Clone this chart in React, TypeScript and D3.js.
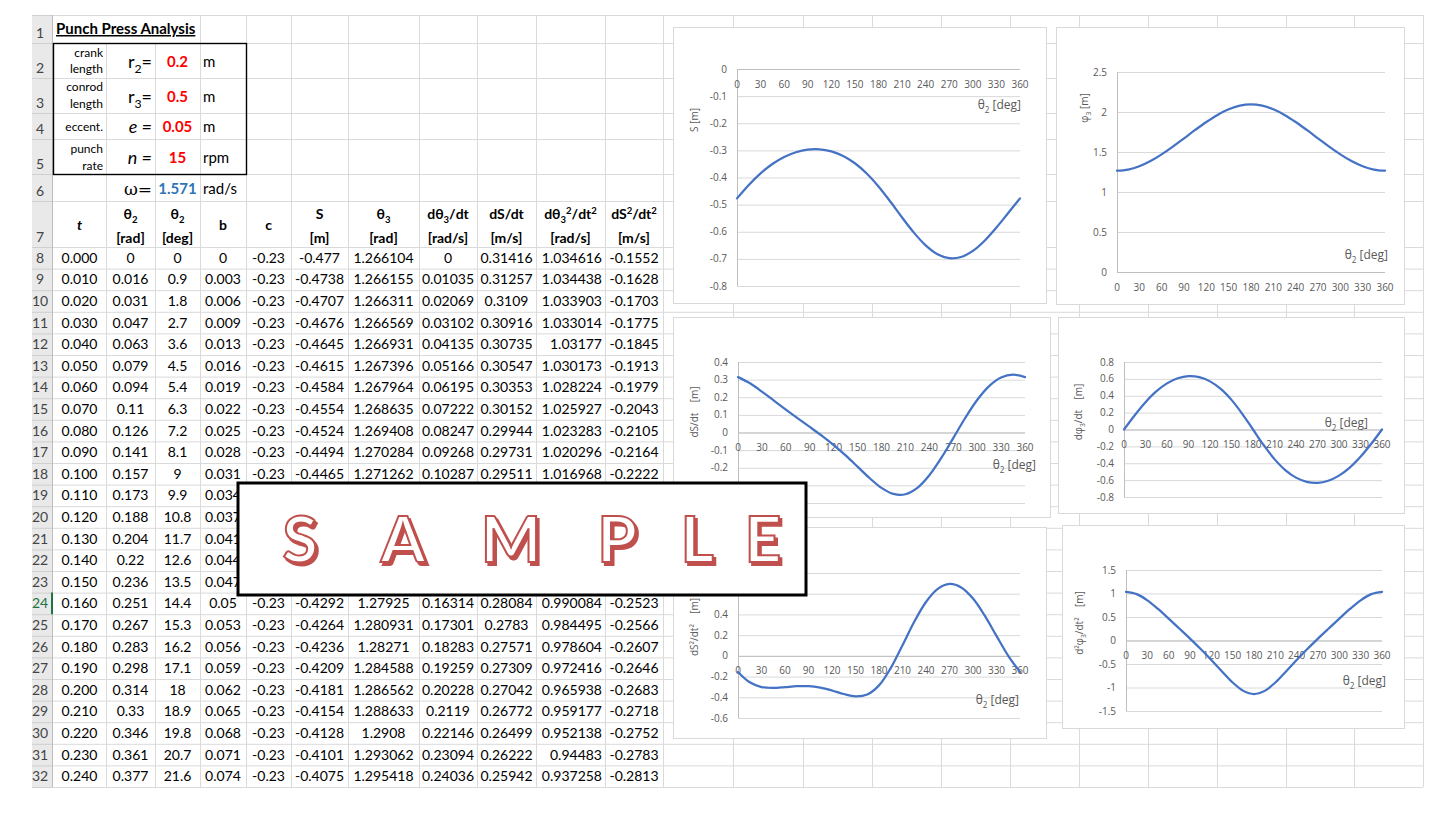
import React from 'react';
import * as d3 from 'd3';

// ---------- chart data ----------
const thetaDeg = [0, 15, 30, 45, 60, 75, 90, 105, 120, 135, 150, 165, 180, 195, 210, 225, 240, 255, 270, 285, 300, 315, 330, 345, 360];
const sVals = [-0.477, -0.4273, -0.3846, -0.3502, -0.3243, -0.3068, -0.2975, -0.2964, -0.3038, -0.3205, -0.3474, -0.3851, -0.433, -0.4886, -0.5474, -0.6033, -0.6502, -0.6827, -0.6975, -0.6932, -0.6707, -0.633, -0.5846, -0.5308, -0.477];
const theta3Vals = [1.2661, 1.2804, 1.3218, 1.3869, 1.4706, 1.5673, 1.671, 1.7758, 1.8755, 1.9637, 2.0336, 2.0787, 2.0944, 2.0787, 2.0336, 1.9637, 1.8755, 1.7758, 1.671, 1.5673, 1.4706, 1.3869, 1.3218, 1.2804, 1.2661];
const dsVals = [0.3142, 0.2792, 0.2321, 0.1808, 0.1297, 0.0802, 0.0316, -0.0182, -0.0715, -0.1301, -0.1937, -0.2582, -0.3142, -0.3487, -0.3504, -0.3142, -0.2426, -0.1444, -0.0316, 0.0824, 0.1844, 0.2635, 0.312, 0.3278, 0.3142];
const dth3Vals = [0, 0.1697, 0.3242, 0.4519, 0.5469, 0.6069, 0.6315, 0.6199, 0.5704, 0.4809, 0.3511, 0.1861, 0, -0.1861, -0.3511, -0.4809, -0.5704, -0.6199, -0.6315, -0.6069, -0.5469, -0.4519, -0.3242, -0.1697, 0];
const d2sVals = [-0.1552, -0.2552, -0.3012, -0.31, -0.3019, -0.293, -0.2931, -0.307, -0.3344, -0.3684, -0.3911, -0.3732, -0.2849, -0.1178, 0.1024, 0.3295, 0.5203, 0.6464, 0.6939, 0.6604, 0.5529, 0.3879, 0.1923, 0.0003, -0.1552];
const d2th3Vals = [1.0346, 0.9864, 0.8552, 0.6719, 0.4659, 0.2542, 0.0401, -0.181, -0.415, -0.6596, -0.8937, -1.0718, -1.1396, -1.0718, -0.8937, -0.6596, -0.415, -0.181, 0.0401, 0.2542, 0.4659, 0.6719, 0.8552, 0.9864, 1.0346];

const degTicks = [0, 30, 60, 90, 120, 150, 180, 210, 240, 270, 300, 330, 360];
const sTicks = [0, -0.1, -0.2, -0.3, -0.4, -0.5, -0.6, -0.7, -0.8];
const theta3Ticks = [0, 0.5, 1, 1.5, 2, 2.5];
const dsTicks = [0.4, 0.3, 0.2, 0.1, 0, -0.1, -0.2, -0.3, -0.4];
const dth3Ticks = [0.8, 0.6, 0.4, 0.2, 0, -0.2, -0.4, -0.6, -0.8];
const d2sTicks = [0.8, 0.6, 0.4, 0.2, 0, -0.2, -0.4, -0.6];
const d2th3Ticks = [1.5, 1, 0.5, 0, -0.5, -1, -1.5];

// ---------- spreadsheet data (rows 8–32; cells hidden under the SAMPLE box are blank) ----------
const tCol = ['0.000', '0.010', '0.020', '0.030', '0.040', '0.050', '0.060', '0.070', '0.080', '0.090', '0.100', '0.110', '0.120', '0.130', '0.140', '0.150', '0.160', '0.170', '0.180', '0.190', '0.200', '0.210', '0.220', '0.230', '0.240'];
const th2RadCol = ['0', '0.016', '0.031', '0.047', '0.063', '0.079', '0.094', '0.11', '0.126', '0.141', '0.157', '0.173', '0.188', '0.204', '0.22', '0.236', '0.251', '0.267', '0.283', '0.298', '0.314', '0.33', '0.346', '0.361', '0.377'];
const th2DegCol = ['0', '0.9', '1.8', '2.7', '3.6', '4.5', '5.4', '6.3', '7.2', '8.1', '9', '9.9', '10.8', '11.7', '12.6', '13.5', '14.4', '15.3', '16.2', '17.1', '18', '18.9', '19.8', '20.7', '21.6'];
const bCol = ['0', '0.003', '0.006', '0.009', '0.013', '0.016', '0.019', '0.022', '0.025', '0.028', '0.031', '0.034', '0.037', '0.041', '0.044', '0.047', '0.05', '0.053', '0.056', '0.059', '0.062', '0.065', '0.068', '0.071', '0.074'];
const cCol = ['-0.23', '-0.23', '-0.23', '-0.23', '-0.23', '-0.23', '-0.23', '-0.23', '-0.23', '-0.23', '-0.23', '', '', '', '', '', '-0.23', '-0.23', '-0.23', '-0.23', '-0.23', '-0.23', '-0.23', '-0.23', '-0.23'];
const sCol = ['-0.477', '-0.4738', '-0.4707', '-0.4676', '-0.4645', '-0.4615', '-0.4584', '-0.4554', '-0.4524', '-0.4494', '-0.4465', '', '', '', '', '', '-0.4292', '-0.4264', '-0.4236', '-0.4209', '-0.4181', '-0.4154', '-0.4128', '-0.4101', '-0.4075'];
const th3Col = ['1.266104', '1.266155', '1.266311', '1.266569', '1.266931', '1.267396', '1.267964', '1.268635', '1.269408', '1.270284', '1.271262', '', '', '', '', '', '1.27925', '1.280931', '1.28271', '1.284588', '1.286562', '1.288633', '1.2908', '1.293062', '1.295418'];
const dth3Col = ['0', '0.01035', '0.02069', '0.03102', '0.04135', '0.05166', '0.06195', '0.07222', '0.08247', '0.09268', '0.10287', '', '', '', '', '', '0.16314', '0.17301', '0.18283', '0.19259', '0.20228', '0.2119', '0.22146', '0.23094', '0.24036'];
const dsCol = ['0.31416', '0.31257', '0.3109', '0.30916', '0.30735', '0.30547', '0.30353', '0.30152', '0.29944', '0.29731', '0.29511', '', '', '', '', '', '0.28084', '0.2783', '0.27571', '0.27309', '0.27042', '0.26772', '0.26499', '0.26222', '0.25942'];
const d2th3Col = ['1.034616', '1.034438', '1.033903', '1.033014', '1.03177', '1.030173', '1.028224', '1.025927', '1.023283', '1.020296', '1.016968', '', '', '', '', '', '0.990084', '0.984495', '0.978604', '0.972416', '0.965938', '0.959177', '0.952138', '0.94483', '0.937258'];
const d2sCol = ['-0.1552', '-0.1628', '-0.1703', '-0.1775', '-0.1845', '-0.1913', '-0.1979', '-0.2043', '-0.2105', '-0.2164', '-0.2222', '', '', '', '', '', '-0.2523', '-0.2566', '-0.2607', '-0.2646', '-0.2683', '-0.2718', '-0.2752', '-0.2783', '-0.2813'];

const paramLabels = [['crank', 'length'], ['conrod', 'length'], ['eccent.'], ['punch', 'rate']];
const paramValues = ['0.2', '0.5', '0.05', '15'];
const paramUnits = ['m', 'm', 'm', 'rpm'];
const omegaValue = '1.571';
const omegaUnit = 'rad/s';
const sampleLetters = ['S', 'A', 'M', 'P', 'L', 'E'];

// ---------- layout ----------
const colX = [53, 106, 155, 200, 246, 291, 348, 419, 477, 536, 605, 663, 733, 803, 872, 941, 1010, 1079, 1148, 1217, 1286, 1354, 1423];
const rowTopFixed = [15, 43, 78, 113, 139, 174, 201];
const ROW8 = 247;
const RH = 21.6;
const rowY = [...rowTopFixed, ...d3.range(0, 26).map((i) => ROW8 + RH * i)];
const GRID = '#dadada';
const TFONT = 'Lato, "Open Sans", sans-serif';
const CFONT = '"Open Sans", "Noto Sans", sans-serif';
const AXC = '#595959';
const BOX = { x0: 238, y0: 483, x1: 806, y1: 595 };
const underBox = (x: number, y: number) => x > BOX.x0 - 2 && x < BOX.x1 + 2 && y > BOX.y0 - 4 && y < BOX.y1 + 4;

type Seg = [string, string?];
function rich(segs: Seg[], size: number) {
  let cur = 0;
  return segs.map(([t, k], i) => {
    const target = k === 'sub' ? size * 0.3 : k === 'sup' ? -size * 0.38 : 0;
    const dy = target - cur;
    cur = target;
    return (
      <tspan key={i} dy={dy} fontSize={k ? size * 0.68 : size}>
        {t}
      </tspan>
    );
  });
}

const fmt = (v: number) => {
  const r = Math.round(v * 100) / 100;
  return (r === 0 ? 0 : r).toString();
};

type Spec = {
  frame: number[];
  x0: number;
  x1: number;
  yDom: number[];
  yPx: number[];
  ticks: number[];
  values: number[];
  xTitle: number[];
  yTitle: number[];
  yLabel: Seg[];
};

const specs: Spec[] = [
  { frame: [673, 27, 1046, 303], x0: 737, x1: 1020, yDom: [-0.8, 0], yPx: [286, 69], ticks: sTicks, values: sVals, xTitle: [1021, 105], yTitle: [694, 120], yLabel: [['S [m]']] },
  { frame: [1056, 27, 1404, 304], x0: 1117, x1: 1385, yDom: [0, 2.5], yPx: [272, 72], ticks: theta3Ticks, values: theta3Vals, xTitle: [1388, 255], yTitle: [1084, 108], yLabel: [['φ'], ['3', 'sub'], [' [m]']] },
  { frame: [673, 317, 1050, 517], x0: 738, x1: 1025, yDom: [-0.4, 0.4], yPx: [503, 362], ticks: dsTicks, values: dsVals, xTitle: [1036, 465], yTitle: [694, 412], yLabel: [['dS/dt    [m]']] },
  { frame: [1058, 317, 1404, 513], x0: 1124, x1: 1382, yDom: [-0.8, 0.8], yPx: [497, 362], ticks: dth3Ticks, values: dth3Vals, xTitle: [1368, 423], yTitle: [1078, 412], yLabel: [['dφ'], ['3', 'sub'], ['/dt    [m]']] },
  { frame: [673, 527, 1046, 738], x0: 738, x1: 1020, yDom: [-0.6, 0.8], yPx: [718, 573], ticks: d2sTicks, values: d2sVals, xTitle: [1019, 700], yTitle: [694, 627], yLabel: [['dS²/dt²    [m]']] },
  { frame: [1062, 525, 1404, 728], x0: 1126, x1: 1382, yDom: [-1.5, 1.5], yPx: [711, 570], ticks: d2th3Ticks, values: d2th3Vals, xTitle: [1386, 681], yTitle: [1079, 623], yLabel: [['d²φ'], ['3', 'sub'], ['/dt²    [m]']] },
];

function Chart({ s }: { s: Spec }) {
  const x = d3.scaleLinear().domain([0, 360]).range([s.x0, s.x1]);
  const y = d3.scaleLinear().domain(s.yDom).range(s.yPx);
  const line = d3
    .line<number>()
    .x((_, i) => x(thetaDeg[i]))
    .y((d) => y(d))
    .curve(d3.curveCatmullRom.alpha(0.5));
  const [fx0, fy0, fx1, fy1] = s.frame;
  const zeroY = y(0);
  const yTop = y(s.yDom[1]);
  const yBot = y(s.yDom[0]);
  return (
    <g>
      <rect x={fx0 + 0.5} y={fy0 + 0.5} width={fx1 - fx0} height={fy1 - fy0} fill="#fff" stroke="#d9d9d9" />
      {s.ticks.map((t) => (
        <line key={'g' + t} x1={s.x0} x2={s.x1} y1={y(t) + 0.5} y2={y(t) + 0.5} stroke="#d9d9d9" strokeWidth={1} />
      ))}
      <line x1={s.x0 + 0.5} x2={s.x0 + 0.5} y1={yTop} y2={yBot} stroke="#bfbfbf" />
      <line x1={s.x0} x2={s.x1} y1={zeroY + 0.5} y2={zeroY + 0.5} stroke="#bfbfbf" />
      {s.ticks
        .filter((t) => !underBox(s.x0 - 20, y(t)))
        .map((t) => (
          <text key={'t' + t} x={s.x0 - 10} y={y(t) + 3.6} textAnchor="end" fontSize={10} fontFamily={CFONT} fill={AXC}>
            {fmt(t)}
          </text>
        ))}
      {degTicks.map((d) => (
        <text key={'x' + d} x={x(d)} y={zeroY + 18.6} textAnchor="middle" fontSize={10} fontFamily={CFONT} fill={AXC}>
          {d}
        </text>
      ))}
      <text x={s.xTitle[0]} y={s.xTitle[1] + 4.3} textAnchor="end" fontSize={12} fontFamily={CFONT} fill={AXC}>
        {rich([['θ'], ['2', 'sub'], [' [deg]']], 12)}
      </text>
      <text
        transform={`translate(${s.yTitle[0] + 3.5},${s.yTitle[1]}) rotate(-90)`}
        textAnchor="middle"
        fontSize={10}
        fontFamily={CFONT}
        fill={AXC}
        style={{ whiteSpace: 'pre' }}
      >
        {rich(s.yLabel, 10)}
      </text>
      <path d={line(s.values) || ''} fill="none" stroke="#4472c4" strokeWidth={2.25} strokeLinecap="round" />
    </g>
  );
}

function Sheet() {
  const top = rowY[0];
  const bottom = rowY[rowY.length - 1];
  const cols = [tCol, th2RadCol, th2DegCol, bCol, cCol, sCol, th3Col, dth3Col, dsCol, d2th3Col, d2sCol];
  const headers: { l1: Seg[]; l2?: string; italic?: boolean }[] = [
    { l1: [['t']], italic: true },
    { l1: [['θ'], ['2', 'sub']], l2: '[rad]' },
    { l1: [['θ'], ['2', 'sub']], l2: '[deg]' },
    { l1: [['b']] },
    { l1: [['c']] },
    { l1: [['S']], l2: '[m]' },
    { l1: [['θ'], ['3', 'sub']], l2: '[rad]' },
    { l1: [['dθ'], ['3', 'sub'], ['/dt']], l2: '[rad/s]' },
    { l1: [['dS/dt']], l2: '[m/s]' },
    { l1: [['dθ'], ['3', 'sub'], ['2', 'sup'], ['/dt'], ['2', 'sup']], l2: '[rad/s]' },
    { l1: [['dS'], ['2', 'sup'], ['/dt'], ['2', 'sup']], l2: '[m/s]' },
  ];
  const rowNumY = [33, 68, 103, 129, 164, 191, 237];
  const paramY = [62, 97, 127, 158];
  const labelLinesY = [[53, 69], [87, 104], [127], [149, 166]];
  const symbols: Seg[][] = [[['r'], ['2', 'sub'], ['=']], [['r'], ['3', 'sub'], ['=']], [['e =']], [['n =']]];
  return (
    <g>
      {/* row header */}
      <rect x={32} y={top} width={21} height={bottom - top} fill="#e9e9e9" />
      {rowY.map((ry, i) => (
        <line key={'rh' + i} x1={32} x2={53} y1={ry + 0.5} y2={ry + 0.5} stroke="#cfcfcf" />
      ))}
      <line x1={52.5} x2={52.5} y1={top} y2={bottom} stroke="#bdbdbd" />
      <line x1={52} x2={52} y1={rowY[23]} y2={rowY[24]} stroke="#217346" strokeWidth={2} />
      {/* grid */}
      {rowY.map((ry, i) => (
        <line key={'h' + i} x1={53} x2={1423} y1={ry + 0.5} y2={ry + 0.5} stroke={GRID} />
      ))}
      {colX.slice(1).map((cx, i) => (
        <line key={'v' + i} x1={cx + 0.5} x2={cx + 0.5} y1={top} y2={bottom} stroke={GRID} />
      ))}
      {/* row 1 overflow area */}
      <rect x={54} y={top + 1} width={145} height={rowY[1] - top - 1} fill="#fff" />
      {/* row numbers */}
      {d3.range(1, 33).map((n) => {
        const cy = n <= 7 ? rowNumY[n - 1] : ROW8 + RH * (n - 8) + RH / 2;
        return (
          <text key={'n' + n} x={40} y={cy + 5} textAnchor="middle" fontSize={14} fontFamily={TFONT} fill={n === 24 ? '#217346' : '#444'}>
            {n}
          </text>
        );
      })}
      {/* title */}
      <text x={56} y={34} fontSize={15} fontWeight={700} fontFamily={TFONT} fill="#000" textDecoration="underline">
        Punch Press Analysis
      </text>
      {/* parameters */}
      {paramLabels.map((lines, i) =>
        lines.map((t, j) => (
          <text key={'pl' + i + j} x={103} y={labelLinesY[i][j] + 4.3} textAnchor="end" fontSize={12} fontFamily={TFONT} fill="#000">
            {t}
          </text>
        ))
      )}
      {symbols.map((segs, i) => (
        <text key={'sy' + i} x={152} y={paramY[i] + 6} textAnchor="end" fontSize={18} fontStyle={i >= 2 ? 'italic' : 'normal'} fontWeight={400} fontFamily={TFONT} fill="#000">
          {rich(segs, 18)}
        </text>
      ))}
      {paramValues.map((v, i) => (
        <text key={'pv' + i} x={177.5} y={paramY[i] + 5.4} textAnchor="middle" fontSize={15} fontWeight={700} fontFamily={TFONT} fill="#ff0000">
          {v}
        </text>
      ))}
      {paramUnits.map((u, i) => (
        <text key={'pu' + i} x={203} y={paramY[i] + 5.4} fontSize={15} fontFamily={TFONT} fill="#000">
          {u}
        </text>
      ))}
      <text x={152} y={195} textAnchor="end" fontSize={17} fontFamily={'"DejaVu Serif", serif'} fill="#000">
        ω=
      </text>
      <text x={177.5} y={194.4} textAnchor="middle" fontSize={15} fontWeight={700} fontFamily={TFONT} fill="#2e75b6">
        {omegaValue}
      </text>
      <text x={203} y={194.4} fontSize={15} fontFamily={TFONT} fill="#000">
        {omegaUnit}
      </text>
      <rect x={53.5} y={43.5} width={193} height={131} fill="none" stroke="#000" strokeWidth={1.4} />
      {/* headers */}
      {headers.map((h, i) => {
        const cx = (colX[i] + colX[i + 1]) / 2;
        return (
          <g key={'hd' + i}>
            <text x={cx} y={(h.l2 ? 214 : 225) + 5} textAnchor="middle" fontSize={14} fontWeight={700} fontStyle={h.italic ? 'italic' : 'normal'} fontFamily={TFONT} fill="#000">
              {rich(h.l1, 14)}
            </text>
            {h.l2 && (
              <text x={cx} y={238 + 5} textAnchor="middle" fontSize={14} fontWeight={700} fontFamily={TFONT} fill="#000">
                {h.l2}
              </text>
            )}
          </g>
        );
      })}
      {/* body */}
      {cols.map((col, ci) =>
        col.map((v, ri) => {
          if (!v) return null;
          const right = ci === 9;
          const cx = right ? colX[ci + 1] - 3 : (colX[ci] + colX[ci + 1]) / 2;
          return (
            <text key={'c' + ci + '-' + ri} x={cx} y={ROW8 + RH * ri + RH / 2 + 5} textAnchor={right ? 'end' : 'middle'} fontSize={14} fontFamily={TFONT} fill="#000">
              {v}
            </text>
          );
        })
      )}
    </g>
  );
}

function SampleBox() {
  const xs = [300, 403, 511, 617, 697, 763];
  return (
    <g>
      <rect x={BOX.x0} y={BOX.y0} width={BOX.x1 - BOX.x0} height={BOX.y1 - BOX.y0} fill="#fff" stroke="#000" strokeWidth={3} />
      {sampleLetters.map((l, i) => (
        <g key={l + i}>
          <text x={xs[i] + 2.5} y={562 + 2.5} textAnchor="middle" fontSize={64} fontWeight={700} fontFamily={TFONT} fill="#c0504d" stroke="#c0504d" strokeWidth={2}>
            {l}
          </text>
          <text x={xs[i]} y={562} textAnchor="middle" fontSize={64} fontWeight={700} fontFamily={TFONT} fill="#fff" stroke="#c0504d" strokeWidth={2}>
            {l}
          </text>
        </g>
      ))}
    </g>
  );
}

export default function App() {
  return (
    <svg width={1440} height={823} viewBox="0 0 1440 823" style={{ position: 'absolute', left: 0, top: 0, display: 'block' }}>
      <rect width={1440} height={823} fill="#fff" />
      <Sheet />
      {specs.map((s, i) => (
        <Chart key={i} s={s} />
      ))}
      <SampleBox />
    </svg>
  );
}
